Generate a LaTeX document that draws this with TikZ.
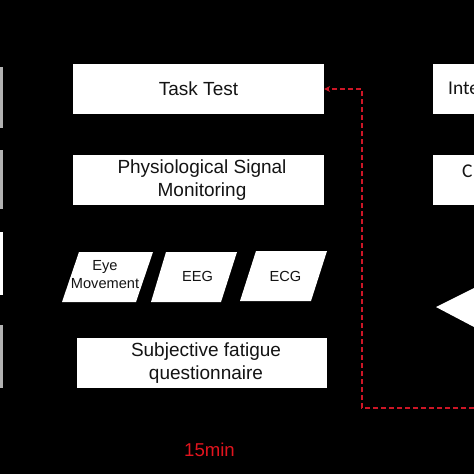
\documentclass[tikz,border=0pt]{standalone}
\usepackage{fontspec}
\setmainfont{Liberation Sans}
\newfontfamily\calib{Carlito}
\usetikzlibrary{arrows.meta}
\definecolor{redline}{RGB}{205,22,38}
\definecolor{redtext}{RGB}{225,20,30}
\definecolor{txt}{RGB}{20,20,20}
\definecolor{bargrey}{RGB}{178,178,178}
\begin{document}
\begin{tikzpicture}[x=1pt,y=-1pt,
  whitebox/.style={fill=white, draw=none, minimum width=251pt, minimum height=50pt,
    inner sep=0pt, text=txt, align=center, font=\fontsize{19}{22.7}\selectfont},
  sidebox/.style={fill=white, draw=none, minimum width=41pt, minimum height=50pt, inner sep=0pt},
  para/.style={fill=white, draw=none},
  paratext/.style={text=txt, align=center, inner sep=0pt, font=\fontsize{14.6}{17.7}\selectfont},
  sidetext/.style={text=txt, inner sep=0pt, anchor=base west, font=\calib\fontsize{19.5}{23}\selectfont},
  bar/.style={fill=bargrey, draw=none},
  feedback/.style={draw=redline, line width=1.4pt, dash pattern=on 5pt off 3pt, -{Stealth[length=6pt,width=6pt]}},
  timetext/.style={text=redtext, inner sep=0pt, font=\fontsize{18.6}{22}\selectfont}]
\fill[black] (0,0) rectangle (474,474);
\useasboundingbox (0,0) rectangle (474,474);

% left edge bars
\fill[bar] (0,67) rectangle (2.5,128);
\fill[bar] (0,150) rectangle (2.5,209);
\fill[white] (0,232) rectangle (3,295);
\fill[bar] (0,325) rectangle (2.5,388);

% main boxes
\node[whitebox] (task) at (198.5,89) {Task Test};
\node[whitebox] (phys) at (198.5,180) {\hspace*{7pt}Physiological Signal\\\hspace*{7pt}Monitoring};
\node[whitebox, minimum width=250pt] (subj) at (202,363) {\hspace*{8pt}Subjective fatigue\\\hspace*{8pt}questionnaire};

% parallelograms
\fill[para] (79,252) -- (153,252) -- (136,302) -- (62,302) -- cycle;
\fill[para] (166,252) -- (237,252) -- (221,302) -- (151,302) -- cycle;
\fill[para] (256,251) -- (327,251) -- (311,301) -- (240,301) -- cycle;
\node[paratext] (eye) at (105,274.5) {Eye\\Movement};
\node[paratext] (eeg) at (197.5,276.5) {EEG};
\node[paratext] (ecg) at (285.5,276.5) {ECG};

% right side (cut off at the picture's edge)
\node[sidebox] (intbox) at (453.5,89) {};
\node[sidebox] (cbox) at (453.5,180) {};
\node[sidetext] (inte) at (448,94) {Inte};
\node[sidetext] (ctext) at (462,177) {C};
\fill[white] (436,307) -- (474,288) -- (474,327) -- cycle;

% feedback connector
\coordinate (fbstart) at (474,408);
\draw[feedback] (fbstart) -- (362,408) -- (362,89) -- (task.east);

% time label
\node[timetext] (time) at (209.5,450) {15min};
\end{tikzpicture}
\end{document}
